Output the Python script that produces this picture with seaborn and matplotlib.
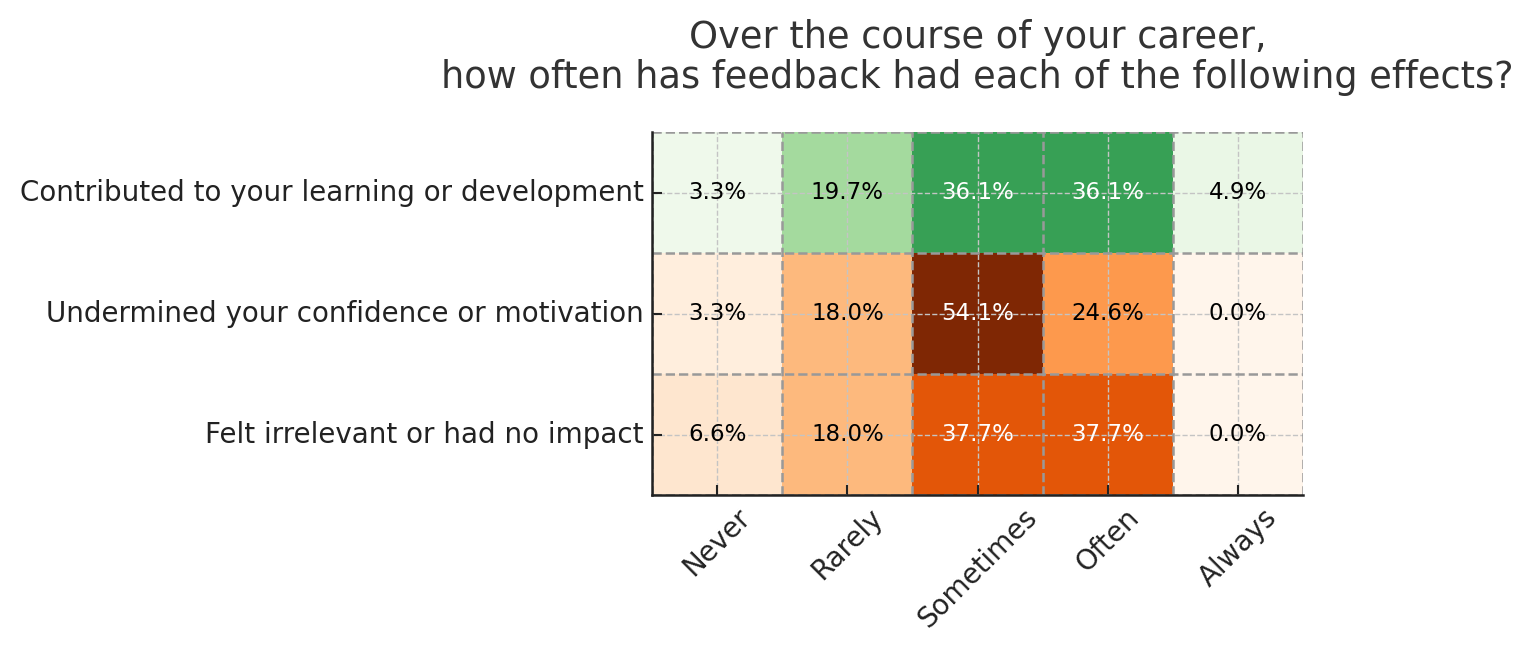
import numpy as np
import pandas as pd
import seaborn as sns
import matplotlib.pyplot as plt

# survey data (percent of respondents)
effects = [
    "Contributed to your learning or development",
    "Undermined your confidence or motivation",
    "Felt irrelevant or had no impact",
]
freq = ["Never", "Rarely", "Sometimes", "Often", "Always"]
learning = [3.3, 19.7, 36.1, 36.1, 4.9]
undermined = [3.3, 18.0, 54.1, 24.6, 0.0]
irrelevant = [6.6, 18.0, 37.7, 37.7, 0.0]

df = pd.DataFrame([learning, undermined, irrelevant], index=effects, columns=freq)
labels = df.map(lambda v: f"{v:.1f}%")
vmax = df.values.max()

fig = plt.figure(figsize=(15.36, 6.51), dpi=100)
ax = fig.add_axes([0.4245, 0.2396, 0.4238, 0.5576])

# positive effect in greens, negative effects in oranges
mask_pos = np.zeros(df.shape, dtype=bool)
mask_pos[1:, :] = True
sns.heatmap(df, mask=mask_pos, cmap="Greens", vmin=0, vmax=vmax, annot=labels, fmt="",
            cbar=False, ax=ax, annot_kws={"fontsize": 16.5})
sns.heatmap(df, mask=~mask_pos, cmap="Oranges", vmin=0, vmax=vmax, annot=labels, fmt="",
            cbar=False, ax=ax, annot_kws={"fontsize": 16.5})

# dark text on light cells should be plain black
for t in ax.texts:
    if t.get_color() != "w":
        t.set_color("black")

ax.grid(True, linestyle="--", color="#c4c4c4", linewidth=1)
for y in range(0, df.shape[0] + 1):
    ax.axhline(y, color="#999999", linestyle="--", linewidth=1.8, zorder=3)
for x in range(0, df.shape[1] + 1):
    ax.axvline(x, color="#999999", linestyle="--", linewidth=1.8, zorder=3)

for side in ["top", "right"]:
    ax.spines[side].set_visible(False)
for side in ["left", "bottom"]:
    ax.spines[side].set_visible(True)
    ax.spines[side].set_color("#222222")
    ax.spines[side].set_linewidth(1.8)
    ax.spines[side].set_zorder(4)

ax.tick_params(axis="both", direction="in", length=7, width=1.5, colors="#222222",
               labelsize=20, labelcolor="#222222", pad=6)
ax.set_xticklabels(freq, rotation=45, ha="center")
ax.set_yticklabels(effects, rotation=0)
ax.set_xlabel("")
ax.set_ylabel("")
ax.set_title("Over the course of your career,\nhow often has feedback had each of the following effects?",
             fontsize=26.5, color="#333333", pad=32, linespacing=1.1)

fig.savefig("out.png", dpi=100)
